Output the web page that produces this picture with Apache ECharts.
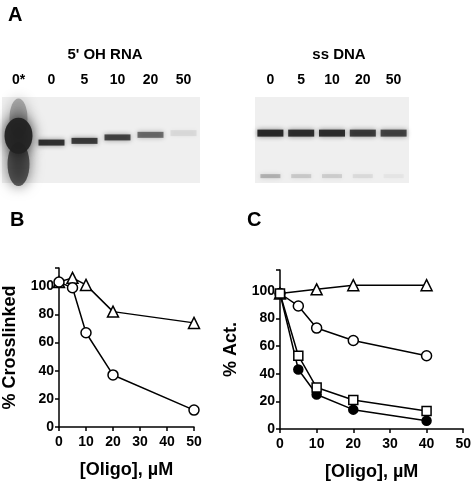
<!DOCTYPE html>
<html><head><meta charset="utf-8">
<script src="https://cdn.jsdelivr.net/npm/echarts@6/dist/echarts.min.js"></script>
<style>body{margin:0;background:#fff}#main{width:474px;height:488px}</style>
</head><body><div id="main"></div>
<script>
// gel lanes
var rnaLanes = ['0*', '0', '5', '10', '20', '50'];
var rnaBandPos = [null, 53, 51, 47, 44, 42];
var rnaBandInt = [null, 0.85, 0.8, 0.75, 0.55, 0.08];
var dnaLanes = ['0', '5', '10', '20', '50'];
var dnaBandPos = [42, 42, 42, 42, 42];
var dnaBandInt = [0.9, 0.88, 0.88, 0.8, 0.75];
var dnaLowInt = [0.25, 0.15, 0.13, 0.08, 0.04];
// panel B
var xB = [0, 5, 10, 20, 50];
var bCircle = [103, 99, 67, 37, 12];
var bTriangle = [103, 106, 101, 82, 74];
// panel C
var xC = [0, 5, 10, 20, 40];
var cTriangle = [98, null, 101, 104, 104];
var cCircle = [98, 89, 73, 64, 53];
var cSquare = [98, 53, 30, 21, 13];
var cFilled = [98, 43, 25, 14, 6];

var FONT = 'Liberation Sans';
var chart = echarts.init(document.getElementById('main'));

function bands(pos, ints) {
  var out = [];
  pos.forEach(function (p, i) {
    if (p != null) out.push({ value: [i, p], itemStyle: { opacity: ints[i] } });
  });
  return out;
}
function pairs(xs, ys) {
  var out = [];
  xs.forEach(function (x, i) { if (ys[i] != null) out.push([x, ys[i]]); });
  return out;
}
function gelAxisX(idx, lanes) {
  return { gridIndex: idx, type: 'category', data: lanes, position: 'top',
    axisLine: { show: false }, axisTick: { show: false },
    axisLabel: { fontFamily: FONT, fontWeight: 'bold', fontSize: 14, color: '#000', margin: 10 } };
}
function gelAxisY(idx) {
  return { gridIndex: idx, type: 'value', min: 0, max: 100, inverse: true, show: false };
}
function plotAxisX(idx, max) {
  return { gridIndex: idx, type: 'value', min: 0, max: max, interval: 10,
    name: '[Oligo], \u00b5M', nameLocation: 'middle', nameGap: 34,
    nameTextStyle: { fontFamily: FONT, fontWeight: 'bold', fontSize: 18, color: '#000' },
    axisLine: { lineStyle: { color: '#000', width: 1.5 } },
    axisTick: { lineStyle: { color: '#000', width: 1.5 }, length: 4 },
    splitLine: { show: false },
    axisLabel: { fontFamily: FONT, fontWeight: 'bold', fontSize: 14, color: '#000', margin: 8 } };
}
function plotAxisY(idx, max, name) {
  return { gridIndex: idx, type: 'value', min: 0, max: max, interval: 20,
    name: name, nameLocation: 'middle', nameGap: 40,
    nameTextStyle: { fontFamily: FONT, fontWeight: 'bold', fontSize: 18, color: '#000' },
    axisLine: { show: true, lineStyle: { color: '#000', width: 1.5 } },
    axisTick: { show: true, lineStyle: { color: '#000', width: 1.5 }, length: 4 },
    splitLine: { show: false },
    axisLabel: { fontFamily: FONT, fontWeight: 'bold', fontSize: 14, color: '#000', margin: 5,
      formatter: function (v) { return v % 20 === 0 && v <= 100 ? v : ''; } } };
}
function line(name, xi, data, symbol, filled, size) {
  return { name: name, type: 'line', xAxisIndex: xi, yAxisIndex: xi, data: data,
    symbol: symbol, symbolSize: size || 10, showAllSymbol: true,
    lineStyle: { color: '#000', width: 1.5 },
    itemStyle: { color: filled ? '#000' : '#fff', borderColor: '#000', borderWidth: 1.5 } };
}
var bandStyle = { color: '#1a1a1a', shadowBlur: 5, shadowColor: 'rgba(0,0,0,0.5)' };
var tStyle = function (size) { return { fontFamily: FONT, fontWeight: 'bold', fontSize: size, color: '#000' }; };

chart.setOption({
  animation: false,
  title: [
    { text: 'A', left: 3, top: 0, textStyle: tStyle(20) },
    { text: "5' OH RNA", left: 100, textAlign: 'center', top: 42, textStyle: tStyle(15) },
    { text: 'ss DNA', left: 334, textAlign: 'center', top: 42, textStyle: tStyle(15) },
    { text: 'B', left: 5, top: 205, textStyle: tStyle(20) },
    { text: 'C', left: 242, top: 205, textStyle: tStyle(20) }
  ],
  grid: [
    { left: 2, width: 198, top: 97, height: 86, backgroundColor: '#efefef', show: true, borderWidth: 0 },
    { left: 255, width: 154, top: 97, height: 86, backgroundColor: '#efefef', show: true, borderWidth: 0 },
    { left: 58, right: 280, top: 268, bottom: 61 },
    { left: 280, right: 9, top: 270, bottom: 59 }
  ],
  xAxis: [gelAxisX(0, rnaLanes), gelAxisX(1, dnaLanes), plotAxisX(2, 50), plotAxisX(3, 50)],
  yAxis: [gelAxisY(0), gelAxisY(1), plotAxisY(2, 113, '% Crosslinked'), plotAxisY(3, 115, '% Act.')],
  series: [
    { type: 'scatter', xAxisIndex: 0, yAxisIndex: 0, symbol: 'rect', symbolSize: [26, 6],
      itemStyle: bandStyle, data: bands(rnaBandPos, rnaBandInt) },
    { type: 'scatter', xAxisIndex: 0, yAxisIndex: 0, symbol: 'circle',
      itemStyle: { color: '#222', shadowBlur: 14, shadowColor: 'rgba(0,0,0,0.8)' },
      data: [
        { value: [0, 25], symbolSize: [18, 40], itemStyle: { opacity: 0.3 } },
        { value: [0, 78], symbolSize: [22, 44], itemStyle: { opacity: 0.7 } },
        { value: [0, 45], symbolSize: [28, 36], itemStyle: { opacity: 0.95 } }
      ] },
    { type: 'scatter', xAxisIndex: 1, yAxisIndex: 1, symbol: 'rect', symbolSize: [26, 7],
      itemStyle: bandStyle, data: bands(dnaBandPos, dnaBandInt) },
    { type: 'scatter', xAxisIndex: 1, yAxisIndex: 1, symbol: 'rect', symbolSize: [20, 4],
      itemStyle: bandStyle, data: bands([92, 92, 92, 92, 92], dnaLowInt) },
    line('B triangle', 2, pairs(xB, bTriangle), 'triangle', false, 11),
    line('B circle', 2, pairs(xB, bCircle), 'circle', false, 10),
    { type: 'scatter', xAxisIndex: 2, yAxisIndex: 2, data: [[0, 103]], symbolSize: 8,
      itemStyle: { color: '#555', borderColor: '#000', borderWidth: 1 } },
    line('C filled', 3, pairs(xC, cFilled), 'circle', true, 9),
    line('C triangle', 3, pairs(xC, cTriangle), 'triangle', false, 11),
    line('C circle', 3, pairs(xC, cCircle), 'circle', false, 10),
    line('C square', 3, pairs(xC, cSquare), 'rect', false, 9)
  ]
});
</script></body></html>
